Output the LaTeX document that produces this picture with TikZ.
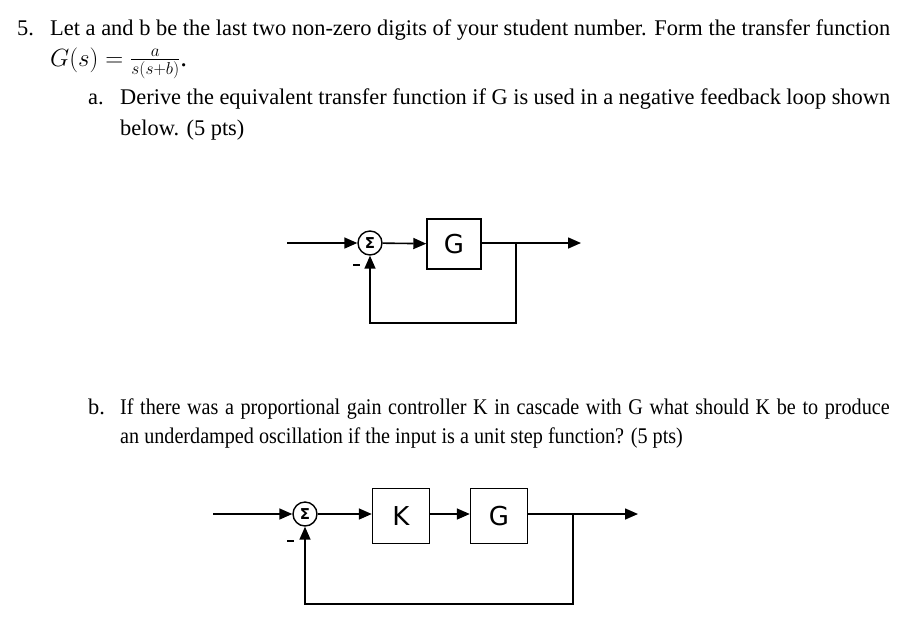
\documentclass[tikz,border=0pt]{standalone}
\usepackage{fontspec}
\setmainfont{Liberation Serif}
\setsansfont{DejaVu Sans}
\usepackage{amsmath}
\usetikzlibrary{arrows.meta}
\begin{document}
\begin{tikzpicture}[x=1pt,y=-1pt,
  txt/.style={anchor=base west,inner sep=0pt,font=\fontsize{22.4}{30}\selectfont},
  blk/.style={draw,line width=1.4pt,minimum width=54pt,minimum height=50pt,font=\sffamily\fontsize{26}{26}\selectfont},
  sumc/.style={draw,circle,line width=1.4pt,minimum size=24pt,inner sep=0pt,font=\sffamily\bfseries\fontsize{15}{15}\selectfont},
  ln/.style={line width=1.6pt},
  ar/.style={ln,-{Triangle[length=13pt,width=11pt]}}]
\useasboundingbox (0,0) rectangle (910,641);
% text
\node[txt] (n5) at (17,35) {5.};
\node[txt] (l1) at (50,35) {\makebox[840pt][s]{Let a and b be the last two non-zero digits of your student number. Form the transfer function}};
\node[txt,font=\fontsize{27}{30}\selectfont] (gs) at (50,66) {$G(s)=\frac{a}{s(s+b)}$.};
\node[txt] (la) at (88,104) {a.};
\node[txt] (pa1) at (120,104) {\makebox[770pt][s]{Derive the equivalent transfer function if G is used in a negative feedback loop shown}};
\node[txt] (pa2) at (120,135) {below. (5 pts)};
\node[txt] (lb) at (88,414) {b.};
\node[txt] (pb1) at (120,414) {\scalebox{0.9}[1]{\makebox[855pt][s]{If there was a proportional gain controller K in cascade with G what should K be to produce}}};
\node[txt] (pb2) at (120,443) {\scalebox{0.9}[1]{an underdamped oscillation if the input is a unit step function? (5 pts)}};
% diagram a
\coordinate (ina) at (287,243);
\node[sumc] (sa) at (370,243) {Σ};
\node[blk] (ga) at (454,244) {G};
\coordinate (outa) at (581,243);
\coordinate (ba) at (516,243);
\coordinate (ca) at (516,323);
\coordinate (da) at (370,323);
\draw[ar] (ina) -- (sa);
\draw[ar] (sa) -- (ga);
\draw[ar] (ga.east|-outa) -- (outa);
\draw[ar] (ba) -- (ca) -- (da) -- (sa.south);
\draw[line width=1.8pt] (353,265) -- (360,265);
% diagram b
\coordinate (inb) at (213,514);
\node[sumc] (sb) at (305,514) {Σ};
\node[blk,minimum width=57pt,minimum height=55pt] (kb) at (401,516) {K};
\node[blk,minimum width=57pt,minimum height=55pt] (gb) at (499,516) {G};
\coordinate (outb) at (638,514);
\coordinate (bb) at (573,514);
\coordinate (cb) at (573,604);
\coordinate (db) at (305,604);
\draw[ar] (inb) -- (sb);
\draw[ar] (sb) -- (kb.west|-sb);
\draw[ar] (kb.east|-sb) -- (gb.west|-sb);
\draw[ar] (gb.east|-outb) -- (outb);
\draw[ar] (bb) -- (cb) -- (db) -- (sb.south);
\draw[line width=1.8pt] (287,541) -- (294,541);
\end{tikzpicture}
\end{document}
